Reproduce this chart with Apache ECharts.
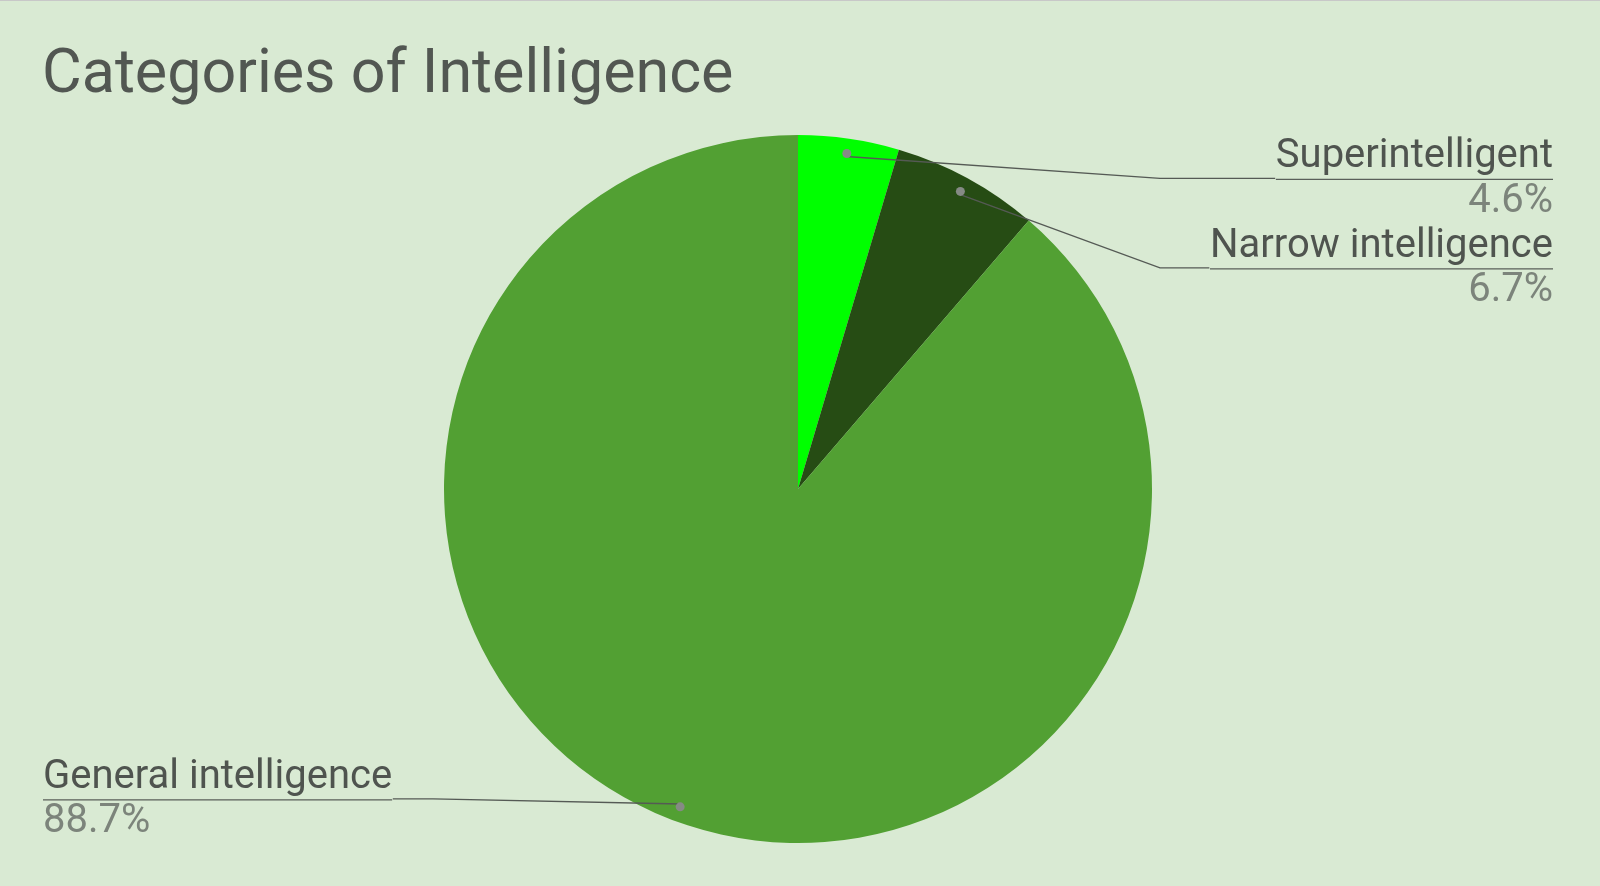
<!DOCTYPE html>
<html>
<head>
<meta charset="utf-8">
<style>
  html, body { margin: 0; padding: 0; background: #d9ead3; }
  #chart { width: 1600px; height: 886px; box-sizing: border-box; border-top: 1px solid #c8c8c8; }
</style>
<script src="https://cdn.jsdelivr.net/npm/echarts@6/dist/echarts.min.js"></script>
</head>
<body>
<div id="chart"></div>
<script>
const titleText = 'Categories of Intelligence';
const categories = ['Superintelligent', 'Narrow intelligence', 'General intelligence'];
const values = [4.6, 6.7, 88.7];
const sliceColors = ['#00ff00', '#264c14', '#52a033'];

const NAME_LH = 47;
const PCT_LH = 39;
const FONT = 'Roboto';

const chart = echarts.init(document.getElementById('chart'), null, { renderer: 'canvas' });

const pieData = categories.map((name, i) => ({
  name: name,
  value: values[i],
  itemStyle: { color: sliceColors[i] }
}));
const plainData = categories.map((name, i) => ({ name: name, value: values[i] }));

function labelLayout(p) {
  const series = chart.getModel().getSeriesByIndex(p.seriesIndex);
  const lay = series.getData().getItemLayout(p.dataIndex);
  const mid = (lay.startAngle + lay.endAngle) / 2;
  const dx = Math.cos(mid), dy = Math.sin(mid);
  const shift = 5;
  const rr = lay.r - 18;
  const start = [lay.cx + dx * rr, lay.cy + dy * rr];
  const rect = p.labelRect;
  const lineY = rect.y + NAME_LH + shift - 3;
  const right = dx >= 0;
  const bendX = right ? lay.cx + lay.r + 8 : lay.cx - lay.r - 11;
  const endX = right ? rect.x : rect.x + rect.width;
  return {
    dy: shift,
    labelLinePoints: [start, [bendX, lineY], [endX, lineY]]
  };
}

const common = {
  type: 'pie',
  left: 0,
  right: 4,
  top: 0,
  bottom: 0,
  center: ['50%', 488],
  startAngle: 90,
  clockwise: true,
  silent: true,
  emphasis: { disabled: true }
};

chart.setOption({
  backgroundColor: '#d9ead3',
  animation: false,
  title: {
    text: titleText,
    left: 37,
    top: 40,
    textStyle: { fontFamily: FONT, fontSize: 61, fontWeight: 'normal', color: '#525752' }
  },
  series: [
    Object.assign({}, common, {
      name: 'slices',
      z: 2,
      radius: 354,
      itemStyle: { borderWidth: 0 },
      label: { show: false },
      labelLine: { show: false },
      data: pieData
    }),
    Object.assign({}, common, {
      name: 'labels',
      z: 3,
      radius: 354,
      percentPrecision: 1,
      avoidLabelOverlap: true,
      itemStyle: { color: 'rgba(0,0,0,0)', borderWidth: 0 },
      label: {
        show: true,
        position: 'outer',
        alignTo: 'edge',
        edgeDistance: 43,
        distanceToLabelLine: 0,
        fontFamily: FONT,
        formatter: '{name|{b}}\n{hr|}\n{pct|{d}%}',
        rich: {
          name: { fontFamily: FONT, fontSize: 40, lineHeight: NAME_LH, padding: [3, 0, 0, 0], color: '#4f544f' },
          hr: { borderColor: '#5a5f5a', borderWidth: 1.3, width: '100%', height: 0 },
          pct: { fontFamily: FONT, fontSize: 40, lineHeight: PCT_LH, padding: [6, 0, 0, 0], color: '#7c847b' }
        }
      },
      labelLine: {
        show: true,
        length: -32,
        length2: 100,
        lineStyle: { color: '#555a55', width: 1.4 }
      },
      labelLayout: labelLayout,
      data: plainData
    }),
    Object.assign({}, common, {
      name: 'dots',
      z: 4,
      radius: [318, 354],
      itemStyle: { color: 'rgba(0,0,0,0)', borderWidth: 0 },
      label: {
        show: true,
        position: 'inside',
        formatter: '{dot|}',
        rich: {
          dot: { width: 9, height: 9, borderRadius: 4.5, backgroundColor: '#858a85' }
        }
      },
      labelLine: { show: false },
      data: plainData
    })
  ]
});
</script>
</body>
</html>
